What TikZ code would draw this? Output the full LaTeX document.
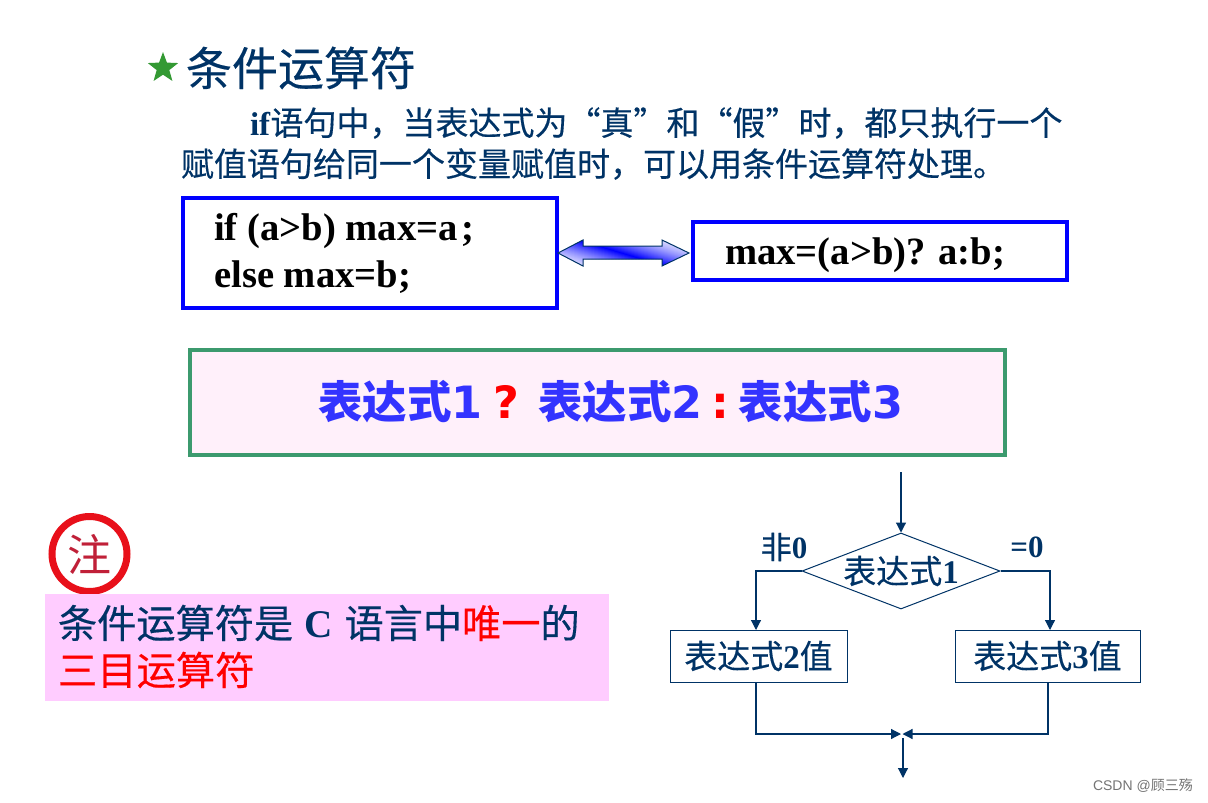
\documentclass[tikz,border=0pt]{standalone}
\usepackage{fontspec}
\usetikzlibrary{shapes.geometric,arrows.meta,calc}
\setmainfont{Liberation Serif}
\setsansfont{Liberation Sans}
\newfontfamily\cjk[FakeBold=0.35]{Noto Sans CJK SC}
\newfontfamily\cjkplain{Noto Sans CJK SC}
\newfontfamily\dejavu{DejaVu Sans}
\newcommand{\fs}[1]{\fontsize{#1}{#1}\selectfont}
\definecolor{navy}{HTML}{003366}
\definecolor{flow}{HTML}{003366}
\definecolor{boxblue}{HTML}{0000FF}
\definecolor{formula}{HTML}{3333FF}
\definecolor{greenedge}{HTML}{3C9A6E}
\definecolor{pinkfill}{HTML}{FFF0FA}
\definecolor{notefill}{HTML}{FFCCFF}
\definecolor{stargreen}{HTML}{339933}
\definecolor{ringred}{HTML}{E8101A}
\definecolor{notered}{HTML}{C02038}
\tikzset{
  x=1pt,y=-1pt,
  txt/.style={anchor=west,inner sep=0pt,outer sep=0pt,text=navy},
  bluebox/.style={draw=boxblue,line width=4pt,fill=white,inner sep=0pt,anchor=center},
  codetext/.style={anchor=base west,inner sep=0pt,text=black,font=\fontsize{38.6}{38.6}\selectfont\bfseries},
  flowbox/.style={draw=flow,line width=1pt,fill=white,inner sep=0pt,text=navy},
  flowline/.style={draw=flow,line width=1.2pt},
  flowarrow/.style={flowline,-{Triangle[length=10pt,width=10pt]}},
  flowlabel/.style={inner sep=0pt,text=navy}
}
\newcommand{\arrowshape}{(558,253) -- (583,240) -- (583,246) -- (662,246) -- (662,240) -- (689,253) -- (662,266) -- (662,259) -- (583,259) -- (583,266) -- cycle}
\begin{document}
\begin{tikzpicture}
\useasboundingbox (0,0) rectangle (1208,803);
% heading
\node[star,star points=5,star point ratio=2.4,fill=stargreen,inner sep=0pt,minimum size=32pt] (star) at (163,68) {};
\node[txt] (title) at (186,68) {\fs{46}\cjk 条件运算符};
\node[txt] (line1) at (250,123) {\fs{33}\textbf{if}\cjk 语句中，当表达式为“真”和“假”时，都只执行一个};
\node[txt] (line2) at (181,164) {\fs{33}\cjk 赋值语句给同一个变量赋值时，可以用条件运算符处理。};
% code boxes
\node[bluebox,minimum width=374pt,minimum height=110pt] (code1) at (369.5,253) {};
\node[bluebox,minimum width=374pt,minimum height=58pt] (code2) at (879.5,251) {};
\node[codetext] (code1a) at (214,240) {if (a>b) max=a\hspace{4pt};};
\node[codetext] (code1b) at (214,287) {else max=b;};
\node[codetext] (code2t) at (725,264) {max=(a>b)? a:b;};
% double arrow
\begin{scope}
\clip \arrowshape;
\foreach \t in {-36,-35,...,36}{
  \pgfmathsetmacro{\p}{100*(1-abs(\t)/38)^1.8}
  \pgfmathsetmacro{\ya}{253+\t+0.3*(550-623)}
  \pgfmathsetmacro{\yb}{253+\t+0.3*(700-623)}
  \fill[boxblue!\p!white] (550,\ya) -- (700,\yb) -- (700,\yb+1.6) -- (550,\ya+1.6) -- cycle;
}
\end{scope}
\draw[draw=navy,line width=1pt,line join=miter] \arrowshape;
% formula
\node[draw=greenedge,line width=4pt,fill=pinkfill,minimum width=815pt,minimum height=105pt,inner sep=0pt] (formulabox) at (597,402) {};
\node[inner sep=0pt,anchor=west] (formula) at (318,402) {\fs{44.5}\color{formula}\bfseries\cjkplain 表达式{\dejavu 1}\hspace{11pt}{\color{red}\dejavu ?}\hspace{19pt}表达式{\dejavu 2}\hspace{9pt}{\color{red}\dejavu :}\hspace{9pt}表达式{\dejavu 3}};
% note
\node[circle,draw=ringred,line width=7pt,fill=white,minimum size=75pt,inner sep=0pt,text=notered] (note) at (89.5,554) {\fs{44}\cjkplain 注};
\node[fill=notefill,minimum width=564pt,minimum height=107pt,inner sep=0pt,anchor=north west] (notebox) at (45,594) {};
\node[txt] (note1) at (58,623) {\fs{39.2}\cjk 条件运算符是\hspace{11pt}{\bfseries\rmfamily C}\hspace{12pt}语言中{\color{red}唯一}的};
\node[txt,text=red] (note2) at (58,670) {\fs{39.3}\cjk 三目运算符};
% flowchart
\coordinate (top) at (901,472);
\node[diamond,draw=flow,line width=1pt,fill=white,aspect=2.6,minimum width=198pt,minimum height=76pt,inner sep=0pt,text=navy] (cond) at (901,571) {\fs{33}\cjk 表达式{\bfseries\rmfamily 1}};
\node[flowbox,minimum width=177pt,minimum height=52pt] (val2) at (758.5,656) {\fs{33}\cjk 表达式{\bfseries\rmfamily 2}值};
\node[flowbox,minimum width=185pt,minimum height=52pt] (val3) at (1047.5,656) {\fs{33}\cjk 表达式{\bfseries\rmfamily 3}值};
\node[flowlabel] (nz) at (784,547) {\fs{31}\cjk 非{\bfseries\rmfamily 0}};
\node[flowlabel] (eq) at (1027,547) {\fs{31}\bfseries =0};
\coordinate (in2) at (756,630);
\coordinate (in3) at (1050,630);
\coordinate (out2) at (756,682);
\coordinate (out3) at (1048,682);
\coordinate (joinL) at (901,734);
\coordinate (joinR) at (902.5,734);
\coordinate (outS) at (903,738);
\coordinate (outE) at (903,778);
\draw[flowarrow] (top) -- (cond.north);
\draw[flowarrow] (cond.west) -| (in2);
\draw[flowarrow] (cond.east) -| (in3);
\draw[flowarrow] (out2) |- (joinL);
\draw[flowarrow] (out3) |- (joinR);
\draw[flowarrow] (outS) -- (outE);
% watermark
\node[inner sep=0pt,anchor=east,text=black!55] (mark) at (1193,786) {\fs{14}\sffamily CSDN @{\cjkplain 顾三殇}};
\end{tikzpicture}
\end{document}
